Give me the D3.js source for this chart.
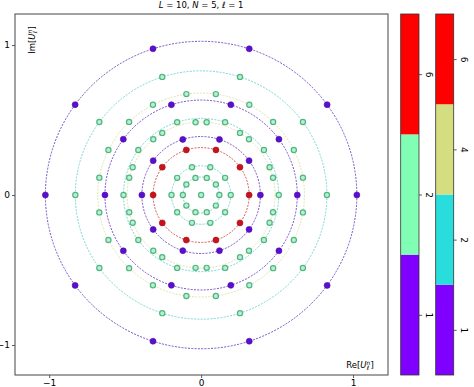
<!DOCTYPE html>
<html>
<head>
<meta charset="utf-8">
<script src="https://cdn.jsdelivr.net/npm/d3@7"></script>
<style>
body { margin: 0; background: #fff; }
text { font-family: "DejaVu Sans", sans-serif; fill: #000; }
</style>
</head>
<body>
<div id="main"></div>
<script>
// radius |U| of each dashed ring, outermost first
const ringRadius = [1.025, 0.828, 0.68, 0.633, 0.511, 0.487, 0.39, 0.316, 0.195, 0.12];
// ring class (right colorbar) and class of the points on it (left colorbar)
const ringClass = [1, 2, 4, 1, 2, 4, 1, 6, 2, 2];
const pointClass = [1, 2, 2, 1, 2, 2, 1, 6, 2, 2];

// angles of the points on the rings, degrees
const anglesA = [0, 36, 72, 108, 144, 180, 216, 252, 288, 324];
const anglesB = [9.8, 26.2, 45.8, 62.2, 81.8, 98.2, 117.8, 134.2, 153.8, 170.2,
                 189.8, 206.2, 225.8, 242.2, 261.8, 278.2, 297.8, 314.2, 333.8, 350.2];
const anglesC = [13.7, 22.3, 49.7, 58.3, 85.7, 94.3, 121.7, 130.3, 157.7, 166.3,
                 193.7, 202.3, 229.7, 238.3, 265.7, 274.3, 301.7, 310.3, 337.7, 346.3];
const ringAngles = [anglesA, anglesA, anglesB, anglesA, anglesA, anglesC, anglesA, anglesA, anglesA, anglesA];

// the single eigenvalue at the origin
const centerRe = [0];
const centerIm = [0];
const centerClass = [2];

const xTicks = [-1, 0, 1];
const yTicks = [-1, 0, 1];

const cbar1Labels = ['1', '2', '6'];
const cbar1Colors = ['#8000ff', '#80ffb4', '#ff0000'];
const cbar2Labels = ['1', '2', '4', '6'];
const cbar2Colors = ['#8000ff', '#2adddd', '#d4dd80', '#ff0000'];

const ringStroke = {1: '#6a3fc0', 2: '#6ad4d0', 4: '#e2dea4', 6: '#cc4a4a'};
const pointFill = {1: '#5a0fcc', 2: '#b4f0d2', 6: '#c8121c'};
const pointStroke = {1: '#4c0bb4', 2: '#52b47f', 6: '#a80e16'};

const width = 474;
const height = 387;
const plotLeft = 15, plotRight = 388, plotTop = 14, plotBottom = 375;

const svg = d3.select('#main').append('svg')
    .attr('width', width)
    .attr('height', height);

const x = d3.scaleLinear().domain([-1.225, 1.23]).range([plotLeft, plotRight]);
const y = d3.scaleLinear().domain([-1.2, 1.207]).range([plotBottom, plotTop]);

// dashed rings
svg.append('g')
    .selectAll('ellipse')
    .data(ringRadius)
    .enter()
    .append('ellipse')
    .attr('cx', x(0))
    .attr('cy', y(0))
    .attr('rx', (d) => x(d) - x(0))
    .attr('ry', (d) => y(0) - y(d))
    .attr('fill', 'none')
    .attr('stroke', (d, i) => ringStroke[ringClass[i]])
    .attr('stroke-width', 0.9)
    .attr('stroke-dasharray', '2,1.3');

// points
let points = [];
ringRadius.forEach((r, i) => {
    ringAngles[i].forEach((a) => {
        points.push({
            re: r * Math.cos(a * Math.PI / 180),
            im: r * Math.sin(a * Math.PI / 180),
            cls: pointClass[i]
        });
    });
});
centerRe.forEach((re, i) => {
    points.push({re: re, im: centerIm[i], cls: centerClass[i]});
});

svg.append('g')
    .selectAll('circle')
    .data(points)
    .enter()
    .append('circle')
    .attr('cx', (d) => x(d.re))
    .attr('cy', (d) => y(d.im))
    .attr('r', (d) => d.cls == 2 ? 2.6 : 3)
    .attr('fill', (d) => pointFill[d.cls])
    .attr('stroke', (d) => pointStroke[d.cls])
    .attr('stroke-width', (d) => d.cls == 2 ? 1.2 : 0.6);

// axes
const fmt = (d) => d < 0 ? '\u2212' + Math.abs(d) : d;
const xAxis = svg.append('g')
    .attr('transform', `translate(0, ${plotBottom})`)
    .call(d3.axisBottom(x).tickValues(xTicks).tickSize(3).tickPadding(2).tickFormat(fmt));
const yAxis = svg.append('g')
    .attr('transform', `translate(${plotLeft}, 0)`)
    .call(d3.axisLeft(y).tickValues(yTicks).tickSize(3).tickPadding(2).tickFormat(fmt));
[xAxis, yAxis].forEach((ax) => {
    ax.select('.domain').remove();
    ax.selectAll('text').attr('font-size', 9).attr('font-family', 'DejaVu Sans');
    ax.selectAll('line').attr('stroke', '#333').attr('stroke-width', 0.8);
});

svg.append('rect')
    .attr('x', plotLeft)
    .attr('y', plotTop)
    .attr('width', plotRight - plotLeft)
    .attr('height', plotBottom - plotTop)
    .attr('fill', 'none')
    .attr('stroke', '#444')
    .attr('stroke-width', 1);

// title
const title = svg.append('text')
    .attr('x', x(0))
    .attr('y', 8)
    .attr('text-anchor', 'middle')
    .attr('font-size', 8.5);
title.append('tspan').attr('font-style', 'italic').text('L');
title.append('tspan').text(' = 10, ');
title.append('tspan').attr('font-style', 'italic').text('N');
title.append('tspan').text(' = 5, ');
title.append('tspan').attr('font-style', 'italic').text('\u2113');
title.append('tspan').text(' = 1');

// axis labels with U_l^n
function uLabel(sel, prefix) {
    sel.append('tspan').text(prefix + '[');
    sel.append('tspan').attr('font-style', 'italic').text('U');
    sel.append('tspan').attr('font-size', 6).attr('font-style', 'italic').attr('dy', -3.2).text('n');
    sel.append('tspan').attr('font-size', 6).attr('font-style', 'italic').attr('dx', -3.6).attr('dy', 5.4).text('\u2113');
    sel.append('tspan').attr('dx', 1.2).attr('dy', -2.2).text(']');
}
const yLabel = svg.append('text')
    .attr('transform', 'translate(35, 40) rotate(-90)')
    .attr('text-anchor', 'middle')
    .attr('font-size', 8.5);
uLabel(yLabel, 'Im');
const xLabel = svg.append('text')
    .attr('x', 360)
    .attr('y', 368)
    .attr('text-anchor', 'middle')
    .attr('font-size', 8.5);
uLabel(xLabel, 'Re');

// colorbars
function colorbar(x0, x1, labels, colors) {
    const cy = d3.scaleLinear().domain([0, labels.length]).range([plotBottom, plotTop]);
    const g = svg.append('g');
    g.selectAll('rect')
        .data(colors)
        .enter()
        .append('rect')
        .attr('x', x0)
        .attr('y', (d, i) => cy(i + 1))
        .attr('width', x1 - x0)
        .attr('height', (d, i) => cy(i) - cy(i + 1))
        .attr('fill', (d) => d);
    g.append('rect')
        .attr('x', x0)
        .attr('y', plotTop)
        .attr('width', x1 - x0)
        .attr('height', plotBottom - plotTop)
        .attr('fill', 'none')
        .attr('stroke', '#333')
        .attr('stroke-width', 0.8);
    const ax = g.append('g')
        .attr('transform', `translate(${x1}, 0)`)
        .call(d3.axisRight(cy).tickValues(labels.map((d, i) => i + 0.5)).tickSize(3)
            .tickFormat((d, i) => labels[i]));
    ax.select('.domain').remove();
    ax.selectAll('line').attr('stroke', '#333').attr('stroke-width', 0.8);
    ax.selectAll('text')
        .attr('font-size', 9)
        .attr('font-family', 'DejaVu Sans')
        .attr('x', 0)
        .attr('y', 0)
        .attr('dy', null)
        .attr('text-anchor', 'middle')
        .attr('dominant-baseline', 'central')
        .attr('transform', 'translate(10, 0) rotate(90)');
}
colorbar(400.7, 419, cbar1Labels, cbar1Colors);
colorbar(435.7, 453.7, cbar2Labels, cbar2Colors);
</script>
</body>
</html>
